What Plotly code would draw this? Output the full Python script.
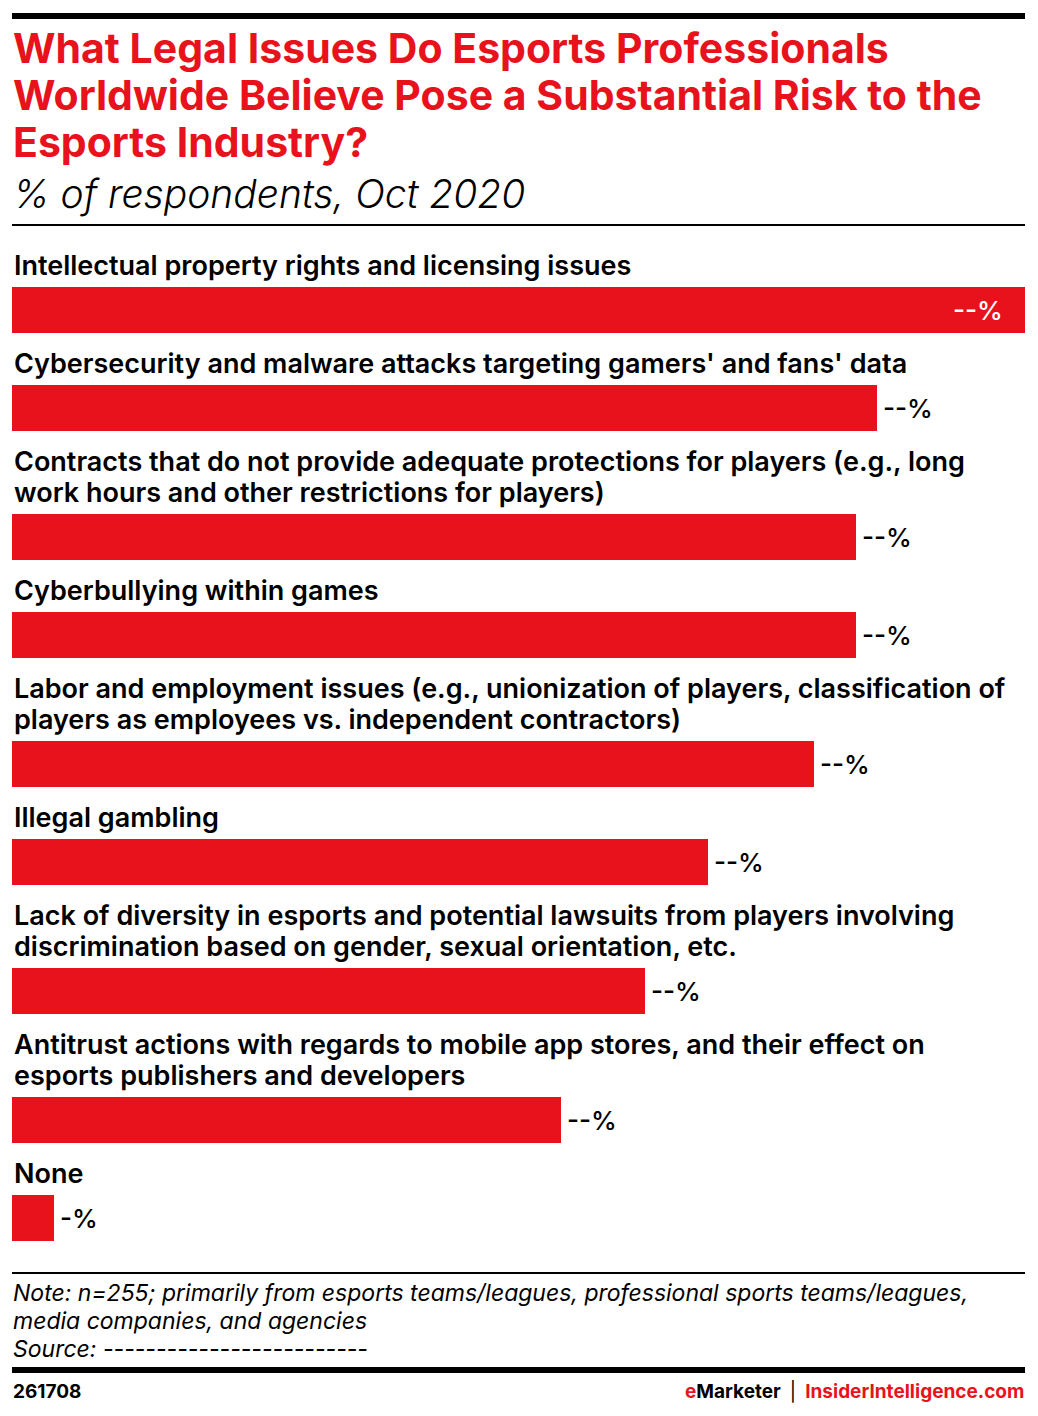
import plotly.graph_objects as go

# ---------------- data ----------------
categories = [
    "Intellectual property rights and licensing issues",
    "Cybersecurity and malware attacks targeting gamers' and fans' data",
    "Contracts that do not provide adequate protections for players (e.g., long<br>work hours and other restrictions for players)",
    "Cyberbullying within games",
    "Labor and employment issues (e.g., unionization of players, classification of<br>players as employees vs. independent contractors)",
    "Illegal gambling",
    "Lack of diversity in esports and potential lawsuits from players involving<br>discrimination based on gender, sexual orientation, etc.",
    "Antitrust actions with regards to mobile app stores, and their effect on<br>esports publishers and developers",
    "None",
]
values = [48, 41, 40, 40, 38, 33, 30, 26, 2]
value_labels = ["--%", "--%", "--%", "--%", "--%", "--%", "--%", "--%", "-%"]

title_lines = [
    "What Legal Issues Do Esports Professionals",
    "Worldwide Believe Pose a Substantial Risk to the",
    "Esports Industry?",
]
subtitle = "% of respondents, Oct 2020"
note_lines = [
    "Note: n=255; primarily from esports teams/leagues, professional sports teams/leagues,",
    "media companies, and agencies",
    "Source: -------------------------",
]
chart_id = "261708"

# ---------------- layout constants ----------------
OFF = 8                      # default page body margin
W, H = 1038 - OFF, 1416 - OFF
LEFT, RIGHT = 12, 1025       # page pixel coordinates
RED = "#E8121D"
FONT = "Inter"
FIRST_BAR_TOP = 287
BAR_H = 46
SLOT = 98
LINE = 31
XMAX = max(values)

def px(x):
    """page x pixel -> paper fraction"""
    return (x - OFF) / W

# bar positions derived from number of label lines
bar_tops = []
top = FIRST_BAR_TOP
for i, c in enumerate(categories):
    n_lines = c.count("<br>") + 1
    if i > 0:
        top = top + SLOT + LINE * (n_lines - 1)
    bar_tops.append(top)
centers = [t + BAR_H / 2 for t in bar_tops]

fig = go.Figure()
fig.add_trace(go.Bar(
    x=values, y=centers, orientation="h", width=BAR_H,
    marker=dict(color=RED, line=dict(width=0)),
    hoverinfo="skip", showlegend=False,
))

ann = []
# category labels (one annotation per line for exact line spacing)
for c, t in zip(categories, bar_tops):
    lines = c.split("<br>")
    n = len(lines)
    for k, ln in enumerate(lines):
        ann.append(dict(
            x=0, xref="x", y=t - 3 - LINE * (n - 1 - k), yref="y",
            xanchor="left", yanchor="bottom",
            text=ln, showarrow=False, align="left",
            font=dict(family=FONT, size=27, color="#000000", weight=600),
        ))
# value labels
for v, lab, cy in zip(values, value_labels, centers):
    inside = v == XMAX
    ann.append(dict(
        x=v, xref="x", y=cy, yref="y",
        xanchor="right" if inside else "left", yanchor="middle",
        xshift=-20 if inside else 4,
        text=lab, showarrow=False,
        font=dict(family=FONT, size=26, color="#FFFFFF" if inside else "#000000", weight=500),
    ))
# title
for i, tl in enumerate(title_lines):
    ann.append(dict(
        x=px(11), xref="paper", y=48 + 47 * i, yref="y", xanchor="left", yanchor="middle",
        text=tl, showarrow=False,
        font=dict(family=FONT, size=41, color=RED, weight=700),
    ))
ann.append(dict(
    x=px(11), xref="paper", y=193, yref="y", xanchor="left", yanchor="middle",
    text="<i>" + subtitle + "</i>", showarrow=False,
    font=dict(family=FONT, size=39, color="#000000", weight=300),
))
# notes
for i, nl in enumerate(note_lines):
    ann.append(dict(
        x=px(11), xref="paper", y=1293 + 28 * i, yref="y", xanchor="left", yanchor="middle",
        text="<i>" + nl + "</i>", showarrow=False,
        font=dict(family=FONT, size=23, color="#000000", weight=400),
    ))
ann.append(dict(
    x=px(11), xref="paper", y=1391, yref="y", xanchor="left", yanchor="middle",
    text=chart_id, showarrow=False,
    font=dict(family=FONT, size=19, color="#000000", weight=700),
))
ann.append(dict(
    x=px(1026), xref="paper", y=1391, yref="y", xanchor="right", yanchor="middle",
    text=("<span style='color:%s'>e</span>Marketer&nbsp;&nbsp;<span style='font-weight:400'>|</span>&nbsp;&nbsp;"
          "<span style='color:%s'>InsiderIntelligence.com</span>") % (RED, RED),
    showarrow=False,
    font=dict(family=FONT, size=19, color="#000000", weight=700),
))

shapes = [
    dict(type="line", xref="paper", yref="y", x0=px(LEFT), x1=px(RIGHT), y0=16, y1=16,
         line=dict(color="#000000", width=6)),
    dict(type="line", xref="paper", yref="y", x0=px(LEFT), x1=px(RIGHT), y0=225, y1=225,
         line=dict(color="#000000", width=2)),
    dict(type="line", xref="paper", yref="y", x0=px(LEFT), x1=px(RIGHT), y0=1273, y1=1273,
         line=dict(color="#000000", width=2)),
    dict(type="line", xref="paper", yref="y", x0=px(LEFT), x1=px(RIGHT), y0=1370, y1=1370,
         line=dict(color="#000000", width=6)),
]

fig.update_layout(
    width=W, height=H,
    margin=dict(l=0, r=0, t=0, b=0),
    paper_bgcolor="#FFFFFF", plot_bgcolor="#FFFFFF",
    xaxis=dict(domain=[px(LEFT), px(RIGHT)], range=[0, XMAX], visible=False, fixedrange=True),
    # y values are page pixel rows
    yaxis=dict(domain=[0, 1], range=[OFF + H, OFF], visible=False, fixedrange=True),
    annotations=ann, shapes=shapes,
    bargap=0,
)

fig.write_html("out.html")
